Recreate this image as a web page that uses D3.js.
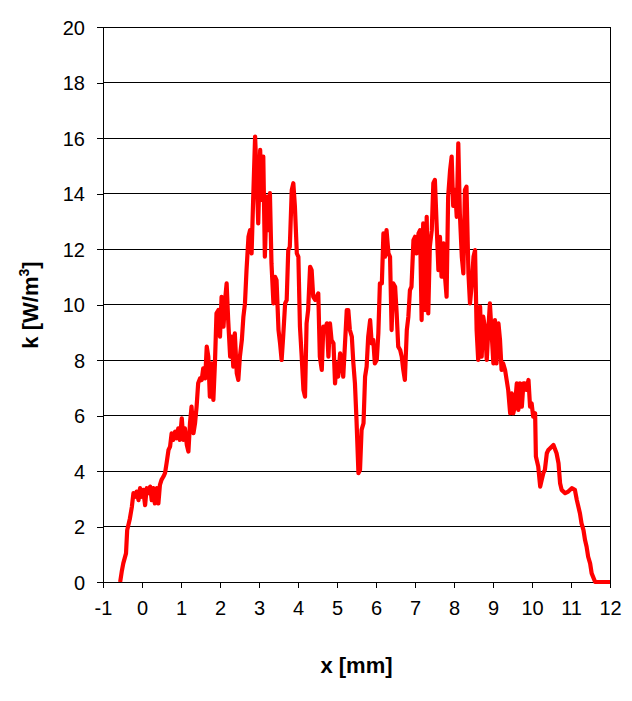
<!DOCTYPE html>
<html>
<head>
<meta charset="utf-8">
<script src="https://cdn.jsdelivr.net/npm/d3@7"></script>
<style>
html,body{margin:0;padding:0;background:#fff;}
svg{display:block;font-family:"Liberation Sans",Arial,sans-serif;}
</style>
</head>
<body>
<svg id="chart" width="632" height="701"></svg>
<script>
// x positions [mm]
const xValues = [
-0.56,-0.52,-0.48,-0.41,-0.38,-0.31,-0.26,-0.22,-0.18,-0.14,-0.09,-0.05,-0.01,0.03,0.08,0.12,0.16,0.21,0.25,0.29,
0.33,0.38,0.42,0.46,0.50,0.55,0.59,0.63,0.68,0.72,0.76,0.80,0.85,0.89,0.93,0.97,1.02,1.06,1.10,1.15,
1.19,1.23,1.27,1.32,1.36,1.40,1.44,1.49,1.53,1.57,1.62,1.66,1.70,1.74,1.79,1.83,1.87,1.91,1.96,2.00,
2.04,2.09,2.13,2.17,2.21,2.26,2.30,2.34,2.38,2.43,2.47,2.51,2.56,2.60,2.64,2.68,2.73,2.77,2.81,2.85,
2.90,2.94,2.98,3.03,3.07,3.11,3.15,3.20,3.24,3.28,
3.32,3.37,3.41,3.45,3.50,3.54,3.58,3.62,3.67,3.71,3.75,3.79,3.84,3.88,3.92,3.97,4.01,4.05,4.09,4.14,
4.18,4.22,4.26,4.31,4.35,4.39,4.44,4.48,4.52,4.56,4.61,4.65,4.69,4.74,4.78,4.82,4.86,4.91,4.95,4.99,
5.03,5.08,5.12,5.16,5.21,5.25,5.29,5.33,5.38,5.42,5.46,5.50,5.55,5.59,5.63,5.68,5.72,5.76,5.80,5.85,
5.89,5.93,5.97,6.02,6.06,6.10,6.15,6.19,6.23,6.27,6.32,6.36,6.40,6.44,6.49,6.53,6.57,6.62,6.66,6.70,
6.74,6.79,6.83,6.87,6.91,6.96,7.00,7.04,7.09,7.13,7.17,7.21,7.26,7.30,7.34,7.38,
7.43,7.47,7.51,7.56,7.60,7.64,7.68,7.73,7.77,7.81,7.85,7.90,7.94,7.98,8.03,8.07,8.11,8.15,8.20,8.24,
8.28,8.32,8.37,8.41,8.45,8.50,8.54,8.58,8.62,8.67,8.71,8.75,8.79,8.84,8.88,8.92,8.97,9.01,9.05,9.09,
9.14,9.18,9.22,9.26,9.31,9.35,9.39,9.44,9.48,9.52,9.56,9.61,9.65,9.69,9.74,9.78,9.82,9.86,9.91,9.95,
9.99,10.03,10.08,10.10,10.16,10.21,10.25,10.29,10.33,10.38,10.42,10.55,10.63,10.68,10.72,10.76,10.85,10.93,11.02,11.10,
11.15,11.23,11.27,11.32,11.36,11.40,11.44,11.49,11.53,11.62,12.00
];
// k values [W/m3]
const kValues = [
0,0.37,0.67,1.03,1.87,2.29,2.71,3.20,3.07,3.26,2.95,3.38,3.07,3.32,2.77,3.38,3.20,3.44,2.95,3.38,
2.83,3.38,2.83,3.50,3.68,3.80,3.92,4.28,4.76,4.88,5.36,5.12,5.42,5.18,5.54,5.12,5.90,5.12,5.54,4.94,
4.70,5.72,6.32,5.36,5.72,6.32,7.16,7.34,7.28,7.70,7.34,8.48,8.12,6.68,7.88,6.56,7.88,9.68,9.80,8.84,
10.28,9.20,10.16,10.76,9.44,8.12,8.84,7.76,8.96,7.52,7.28,8.12,8.72,9.56,10.04,11.24,12.44,12.68,11.84,13.77,
16.05,14.61,12.92,15.57,13.77,15.33,11.72,13.89,12.68,14.01,
11.48,10.04,11.00,10.88,9.08,8.60,8.00,8.84,10.04,10.16,11.96,12.08,14.13,14.37,13.55,11.84,11.72,9.20,8.24,6.92,
6.68,9.32,9.80,11.36,11.24,10.28,10.16,10.28,10.40,8.12,7.64,9.20,9.08,9.32,8.12,9.32,8.72,8.60,7.16,7.88,
7.40,8.24,7.88,7.40,8.72,9.80,9.80,9.08,8.84,7.88,7.16,5.84,3.92,4.04,5.48,5.72,7.40,7.76,8.84,9.44,
8.60,8.72,7.88,8.00,8.96,10.76,10.76,12.56,11.72,12.68,11.84,11.72,9.08,10.76,10.64,9.68,8.48,8.36,8.12,7.64,
7.28,9.08,9.56,10.52,10.64,12.32,12.44,11.84,12.56,12.68,9.44,12.92,9.80,13.16,9.68,12.08,
12.68,14.37,14.49,12.68,11.24,12.44,11.00,12.20,11.00,10.28,13.89,14.85,15.33,13.55,14.13,13.16,15.81,13.28,11.72,11.12,
14.13,14.25,11.12,10.04,10.64,11.72,11.96,9.08,8.00,9.92,8.12,9.56,9.20,8.00,9.08,10.04,8.84,7.88,9.44,7.88,
9.32,8.72,7.64,7.88,7.64,7.28,6.92,6.08,6.80,6.08,6.32,7.16,6.20,7.16,6.32,7.16,7.16,6.92,7.28,6.32,
6.44,5.96,6.08,4.52,4.16,3.44,3.68,3.92,4.04,4.64,4.76,4.94,4.64,4.28,3.56,3.32,3.20,3.26,3.38,3.32,
2.95,2.47,2.11,1.87,1.51,1.27,0.91,0.67,0.31,0,0
];
const xTicks = [-1,0,1,2,3,4,5,6,7,8,9,10,11,12];
const yTicks = [0,2,4,6,8,10,12,14,16,18,20];
const xTitle = "x [mm]";

const svg = d3.select("#chart");
const mLeft = 103, mRight = 610, mTop = 27, mBottom = 582;
const x = d3.scaleLinear().domain([-1, 12]).range([mLeft, mRight]);
const y = d3.scaleLinear().domain([0, 20]).range([mBottom, mTop]);

// gridlines
svg.append("g").selectAll("line").data(yTicks.filter(d => d > 0)).join("line")
  .attr("x1", mLeft).attr("x2", mRight)
  .attr("y1", d => y(d)).attr("y2", d => y(d))
  .attr("stroke", "#000").attr("stroke-width", 1).attr("shape-rendering", "crispEdges");

// right border
svg.append("line").attr("x1", mRight).attr("x2", mRight).attr("y1", mTop).attr("y2", mBottom)
  .attr("stroke", "#000").attr("stroke-width", 1).attr("shape-rendering", "crispEdges");

// axes
const fmt = d => String(d);
const xAxis = d3.axisBottom(x).tickValues(xTicks).tickFormat(fmt).tickSize(6).tickPadding(13).tickSizeOuter(0);
const gx = svg.append("g").attr("transform", `translate(0,${mBottom})`).call(xAxis);
const yAxis = d3.axisLeft(y).tickValues(yTicks).tickFormat(fmt).tickSize(6).tickPadding(12).tickSizeOuter(0);
const gy = svg.append("g").attr("transform", `translate(${mLeft},0)`).call(yAxis);
[gx, gy].forEach(g => {
  g.select(".domain").attr("stroke", "#000").attr("stroke-width", 1).attr("shape-rendering", "crispEdges");
  g.selectAll(".tick line").attr("stroke", "#000").attr("shape-rendering", "crispEdges");
  g.selectAll("text").attr("font-family", "'Liberation Sans', Arial, sans-serif")
    .attr("font-size", 20).attr("fill", "#000");
});
gy.selectAll("text").attr("dy", "0.35em");

// data line
const pts = xValues.map((v, i) => [v, kValues[i]]);
svg.append("path").datum(pts)
  .attr("fill", "none").attr("stroke", "#ff0000").attr("stroke-width", 4.2)
  .attr("stroke-linejoin", "round").attr("stroke-linecap", "butt")
  .attr("d", d3.line().x(d => x(d[0])).y(d => y(d[1])));

// titles
svg.append("text").attr("x", (mLeft + mRight) / 2).attr("y", 673)
  .attr("text-anchor", "middle").attr("font-size", 22).attr("font-weight", "bold")
  .text(xTitle);

const yt = svg.append("text").attr("transform", "translate(38,305) rotate(-90)")
  .attr("text-anchor", "middle").attr("font-size", 22).attr("font-weight", "bold");
yt.append("tspan").text("k [W/m");
yt.append("tspan").attr("font-size", 14).attr("dy", -9).text("3");
yt.append("tspan").attr("dy", 9).text("]");
</script>
</body>
</html>
